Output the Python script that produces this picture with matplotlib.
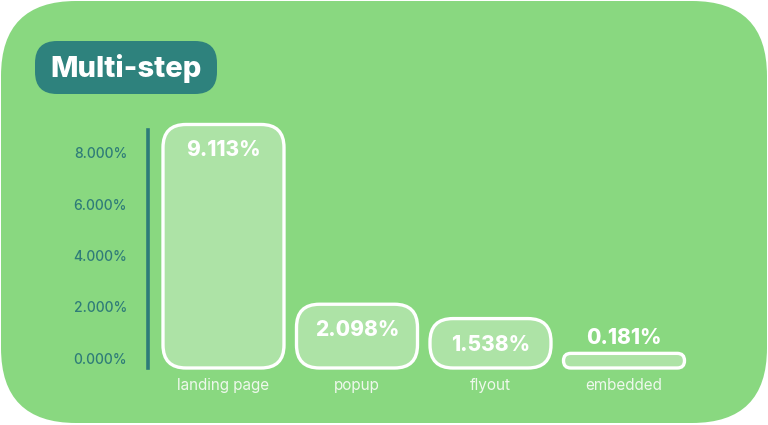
import matplotlib.pyplot as plt
from matplotlib.patches import FancyBboxPatch

categories = ['landing page', 'popup', 'flyout', 'embedded']
values = [9.113, 2.098, 1.538, 0.181]
value_labels = ['9.113%', '2.098%', '1.538%', '0.181%']
tick_values = [0, 2, 4, 6, 8]
tick_labels = ['0.000%', '2.000%', '4.000%', '6.000%', '8.000%']
title = 'Multi-step'

W, H = 768, 425
green = '#89d880'
bar_fill = '#ade3a6'
teal = '#2e827d'

fig = plt.figure(figsize=(W / 100, H / 100), dpi=100)
plt.rcParams['font.family'] = ['Inter', 'DejaVu Sans']

# background layer in pixel coordinates
bg = fig.add_axes([0, 0, 1, 1])
bg.set_xlim(0, W)
bg.set_ylim(H, 0)
bg.axis('off')
bg.add_patch(FancyBboxPatch((1, 1), W - 2, H - 3,
                            boxstyle='round,pad=0,rounding_size=75',
                            fc=green, ec='none'))
bg.add_patch(FancyBboxPatch((35, 41), 182, 53,
                            boxstyle='round,pad=0,rounding_size=22',
                            fc=teal, ec='none'))
bg.text(126, 68, title, color='white', fontsize=21, fontweight='heavy',
        ha='center', va='center')

# chart axes: pixel layout
px_per_unit = 25.625
zero_y = 358
ax_top, ax_bot = 130, 368
ax_left, ax_right = 148, 720
x0_px, step_px = 223.5, 133.5

ax = fig.add_axes([ax_left / W, 1 - ax_bot / H,
                   (ax_right - ax_left) / W, (ax_bot - ax_top) / H])
ax.set_facecolor('none')
ax.set_ylim(-(ax_bot - zero_y) / px_per_unit, (zero_y - ax_top) / px_per_unit)
ax.set_xlim((ax_left - x0_px) / step_px, (ax_right - x0_px) / step_px)

for s in ['top', 'right', 'bottom']:
    ax.spines[s].set_visible(False)
ax.spines['left'].set_color('#2d7b79')
ax.spines['left'].set_linewidth(2.6)
ax.set_yticks(tick_values)
ax.set_yticklabels(tick_labels, color='#2f7c78', fontsize=10, fontweight='medium')
ax.tick_params(axis='y', length=0, pad=15)
ax.set_xticks(range(len(categories)))
ax.set_xticklabels(categories, color='#eef8ec', fontsize=11)
ax.tick_params(axis='x', length=0, pad=7)

bar_w = 121 / step_px
base = ax.get_ylim()[0]
aspect = step_px / px_per_unit
radius_px = 23

for i, v in enumerate(values):
    h = v - base
    h_px = h * px_per_unit
    r = min(radius_px, h_px / 2) / step_px
    ax.add_patch(FancyBboxPatch((i - bar_w / 2, base), bar_w, h,
                                boxstyle=f'round,pad=0,rounding_size={r}',
                                mutation_aspect=aspect,
                                fc=bar_fill, ec='white', lw=2.4, clip_on=False))
    offset = -26 if h_px > 40 else 15
    ax.annotate(value_labels[i], (i, v), xytext=(0, offset * 0.72),
                textcoords='offset points', ha='center', va='center',
                color='white', fontsize=15, fontweight='heavy',
                annotation_clip=False)

fig.savefig('out.png', dpi=100, facecolor='white')
